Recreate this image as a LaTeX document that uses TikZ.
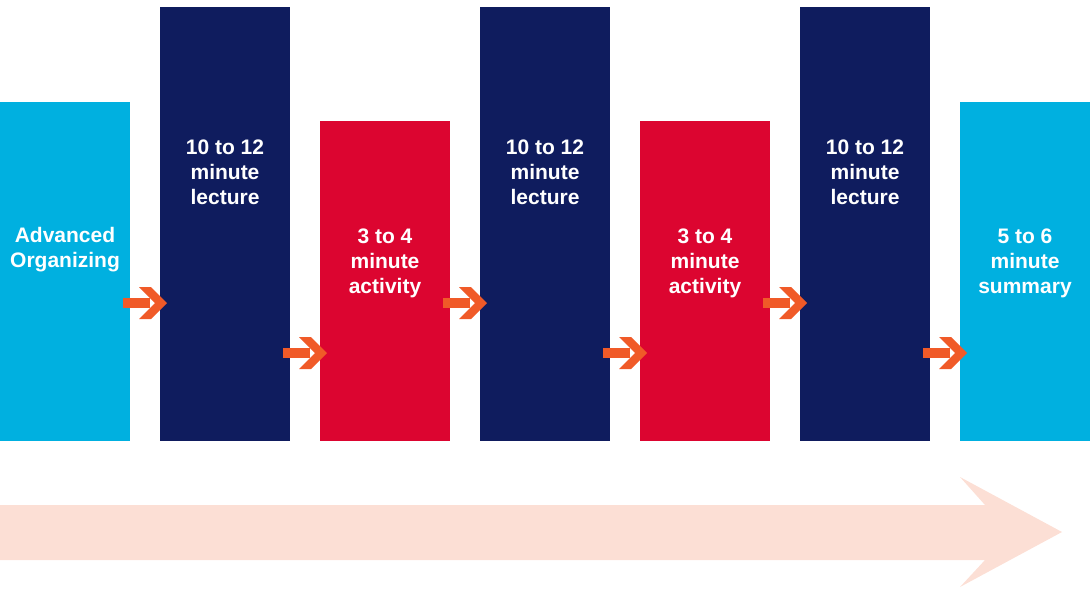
\documentclass[tikz,border=0pt]{standalone}
\usepackage{fontspec}
\setmainfont{Liberation Sans}
\definecolor{cy}{HTML}{00B0E0}
\definecolor{nv}{HTML}{0F1C5E}
\definecolor{rd}{HTML}{DC0530}
\definecolor{og}{HTML}{F05A28}
\definecolor{pk}{HTML}{FCDFD5}
\begin{document}
\begin{tikzpicture}[x=1pt,y=-1pt,
 blk/.style={inner sep=0pt,outer sep=0pt},
 lbl/.style={text=white,font=\bfseries\fontsize{21}{25}\selectfont,align=center}]
\useasboundingbox (0,0) rectangle (1090,595);
\fill[pk] (0,505) -- (985,505) -- (960,477) -- (1062,532) -- (960,587) -- (985,560) -- (0,560) -- cycle;
\fill[cy] (0,102) rectangle (130,441) coordinate (b1);
\fill[nv] (160,7) rectangle (290,441);
\fill[rd] (320,121) rectangle (450,441);
\fill[nv] (480,7) rectangle (610,441);
\fill[rd] (640,121) rectangle (770,441);
\fill[nv] (800,7) rectangle (930,441);
\fill[cy] (960,102) rectangle (1090,441);
\node[lbl] (t1) at (65,250) {Advanced\\Organizing};
\node[lbl] (t2) at (225,172) {10 to 12\\minute\\lecture};
\node[lbl] (t3) at (385,263) {3 to 4\\minute\\activity};
\node[lbl] (t4) at (545,172) {10 to 12\\minute\\lecture};
\node[lbl] (t5) at (705,263) {3 to 4\\minute\\activity};
\node[lbl] (t6) at (865,172) {10 to 12\\minute\\lecture};
\node[lbl] (t7) at (1025,263) {5 to 6\\minute\\summary};
\foreach \x/\y in {167/303,327/353,487/303,647/353,807/303,967/353}{
 \fill[og] (\x-44,\y-5) rectangle (\x-17,\y+5);
 \fill[og] (\x-28,\y-16) -- (\x-16,\y-16) -- (\x,\y) -- (\x-16,\y+16) -- (\x-28,\y+16) -- (\x-12,\y) -- cycle;
}
\end{tikzpicture}
\end{document}
